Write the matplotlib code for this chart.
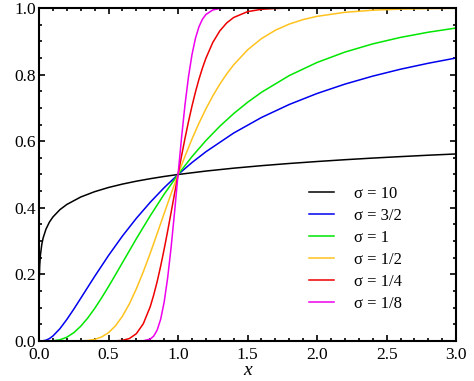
import matplotlib
matplotlib.use("Agg")
import matplotlib.pyplot as plt
from matplotlib.ticker import MultipleLocator, FormatStrFormatter

plt.rcParams['font.family'] = ['Liberation Serif', 'DejaVu Serif']

labels = ["σ = 10", "σ = 3/2", "σ = 1", "σ = 1/2", "σ = 1/4", "σ = 1/8"]
colors = ["#000000", "#0000ee", "#00e600", "#ffc21e", "#ee0000", "#ee00ee"]

x_s10 = [0.002, 0.005, 0.01, 0.02, 0.03, 0.05, 0.075, 0.1, 0.15, 0.2, 0.3, 0.4, 0.5, 0.6,
         0.7, 0.8, 0.9, 1.0, 1.2, 1.4, 1.6, 1.8, 2.0, 2.2, 2.4, 2.6, 2.8, 3.0]
y_s10 = [0.1897, 0.2269, 0.2575, 0.2901, 0.3099, 0.3358, 0.3572, 0.3724, 0.3943, 0.4100,
         0.4324, 0.4484, 0.4610, 0.4712, 0.4799, 0.4874, 0.4941, 0.5, 0.5103, 0.5190,
         0.5265, 0.5331, 0.5390, 0.5444, 0.5493, 0.5537, 0.5579, 0.5617]

x_s32 = [0.0, 0.01, 0.02, 0.05, 0.075, 0.1, 0.15, 0.2, 0.25, 0.3, 0.35, 0.4, 0.5, 0.6, 0.7,
         0.8, 0.9, 1.0, 1.1, 1.2, 1.4, 1.6, 1.8, 2.0, 2.2, 2.4, 2.6, 2.8, 3.0]
y_s32 = [0.0, 0.0, 0.0001, 0.0024, 0.0073, 0.0150, 0.0368, 0.0646, 0.0956, 0.1282, 0.1611,
         0.1938, 0.2568, 0.3152, 0.3684, 0.4166, 0.4604, 0.5, 0.5358, 0.5682, 0.6245,
         0.6712, 0.7103, 0.7433, 0.7714, 0.7954, 0.8162, 0.8341, 0.8499]

x_s1 = [0.0, 0.05, 0.1, 0.15, 0.2, 0.25, 0.3, 0.35, 0.4, 0.45, 0.5, 0.55, 0.6, 0.7, 0.8,
        0.9, 1.0, 1.1, 1.2, 1.3, 1.4, 1.5, 1.6, 1.8, 2.0, 2.2, 2.4, 2.6, 2.8, 3.0]
y_s1 = [0.0, 0.0, 0.0006, 0.0036, 0.0114, 0.0249, 0.0443, 0.0688, 0.0975, 0.1294, 0.1635,
        0.1990, 0.2351, 0.3071, 0.3760, 0.4408, 0.5, 0.5536, 0.6017, 0.6447, 0.6829,
        0.7168, 0.7469, 0.7971, 0.8365, 0.8676, 0.8922, 0.9117, 0.9273, 0.9399]

x_s12 = [0.0, 0.2, 0.25, 0.3, 0.35, 0.4, 0.45, 0.5, 0.55, 0.6, 0.65, 0.7, 0.75, 0.8, 0.85,
         0.9, 0.95, 1.0, 1.05, 1.1, 1.15, 1.2, 1.25, 1.3, 1.35, 1.4, 1.5, 1.6, 1.7, 1.8,
         1.9, 2.0, 2.2, 2.4, 2.6, 2.8, 3.0]
y_s12 = [0.0, 0.0, 0.0, 0.0003, 0.0015, 0.0048, 0.0120, 0.0250, 0.0455, 0.0744, 0.1116,
         0.1567, 0.2078, 0.2637, 0.3228, 0.3829, 0.4424, 0.5, 0.5549, 0.6063, 0.6537,
         0.6969, 0.7360, 0.7710, 0.8020, 0.8294, 0.8743, 0.9081, 0.9333, 0.9518, 0.9653,
         0.9750, 0.9871, 0.9934, 0.9966, 0.9982, 0.9991]

x_s14 = [0.0, 0.5, 0.55, 0.6, 0.65, 0.7, 0.75, 0.8, 0.825, 0.85, 0.875, 0.9, 0.925, 0.95,
         0.975, 1.0, 1.025, 1.05, 1.075, 1.1, 1.125, 1.15, 1.175, 1.2, 1.25, 1.3, 1.35,
         1.4, 1.5, 1.6, 1.7, 1.8, 2.0, 3.0]
y_s14 = [0.0, 0.0, 0.0004, 0.0019, 0.0074, 0.0219, 0.0518, 0.1031, 0.1383, 0.1788, 0.2250,
         0.2756, 0.3296, 0.3859, 0.4431, 0.5, 0.5555, 0.6087, 0.6587, 0.7051, 0.7473,
         0.7855, 0.8191, 0.8487, 0.8966, 0.9311, 0.9552, 0.9715, 0.9891, 0.9961, 0.9987,
         0.9996, 1.0, 1.0]

x_s18 = [0.0, 0.7, 0.75, 0.8, 0.825, 0.85, 0.875, 0.9, 0.925, 0.95, 0.975, 1.0, 1.025,
         1.05, 1.075, 1.1, 1.125, 1.15, 1.175, 1.2, 1.25, 1.3, 1.35, 1.4, 3.0]
y_s18 = [0.0, 0.0, 0.0006, 0.0057, 0.0148, 0.0329, 0.0654, 0.1166, 0.1889, 0.2810, 0.3872,
         0.5, 0.6100, 0.7095, 0.7933, 0.8595, 0.9087, 0.9432, 0.9660, 0.9804, 0.9942,
         0.9985, 0.9997, 1.0, 1.0]

series = [(x_s10, y_s10), (x_s32, y_s32), (x_s1, y_s1), (x_s12, y_s12), (x_s14, y_s14), (x_s18, y_s18)]

fig = plt.figure(figsize=(4.74, 3.81), dpi=100)
ax = fig.add_axes([0.0823, 0.105, 0.880, 0.874])

for (xs, ys), c, lab in zip(series, colors, labels):
    ax.plot(xs, ys, color=c, lw=1.1, label=lab)

ax.set_xlim(0, 3)
ax.set_ylim(0, 1)
ax.xaxis.set_major_locator(MultipleLocator(0.5))
ax.xaxis.set_minor_locator(MultipleLocator(0.1))
ax.yaxis.set_major_locator(MultipleLocator(0.2))
ax.yaxis.set_minor_locator(MultipleLocator(0.05))
ax.xaxis.set_major_formatter(FormatStrFormatter('%.1f'))
ax.yaxis.set_major_formatter(FormatStrFormatter('%.1f'))
ax.tick_params(which='both', direction='in', top=True, right=True, width=1.2, labelsize=12.5)
ax.tick_params(which='major', length=4)
ax.tick_params(axis='x', which='major', pad=4.5)
ax.tick_params(axis='y', which='major', pad=2)
ax.tick_params(which='minor', length=2.5)
for sp in ax.spines.values():
    sp.set_linewidth(1.5)

ax.set_xlabel('x', fontstyle='italic', fontsize=14, labelpad=-1)

ax.legend(loc='center left', bbox_to_anchor=(0.647, 0.277), frameon=False, fontsize=12,
          borderpad=0, handlelength=1.5, handletextpad=1.2, labelspacing=0.36,
          borderaxespad=0)

fig.savefig('out.png', dpi=100)
